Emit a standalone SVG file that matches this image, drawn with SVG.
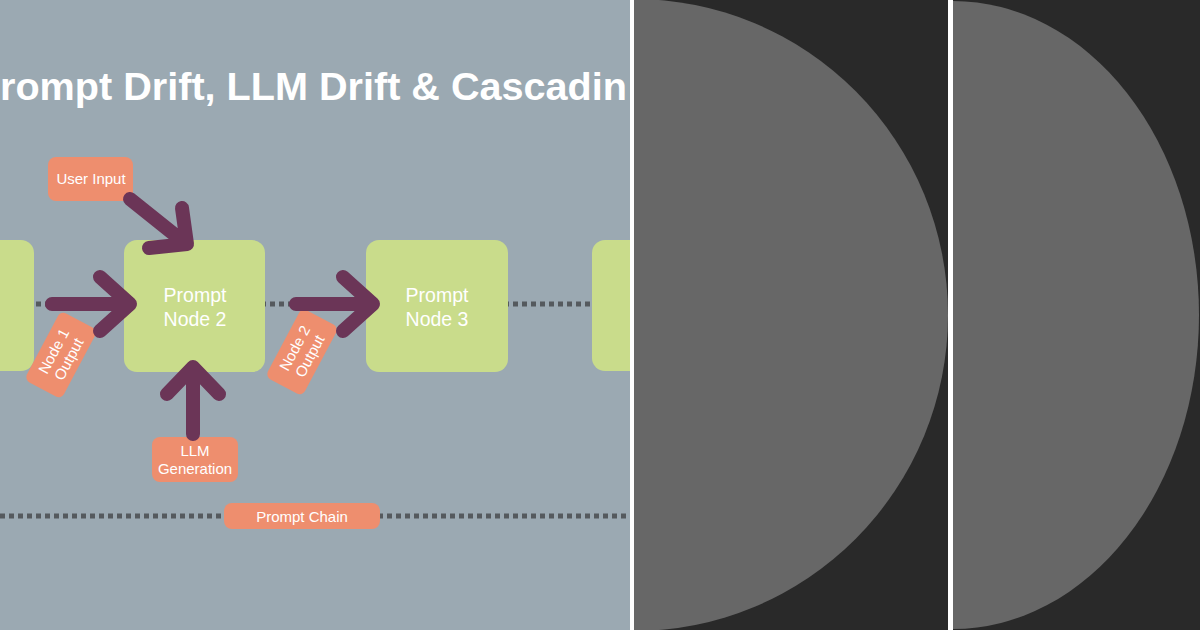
<svg xmlns="http://www.w3.org/2000/svg" width="1200" height="630" viewBox="0 0 1200 630">
<defs>
<style>
.node{fill:#c9dc8b}
.lbl{fill:#ee8e6e}
.ntxt{font-family:"Liberation Sans",Arial,sans-serif;font-size:19.5px;fill:#ffffff;text-anchor:middle}
.ltxt{font-family:"Liberation Sans",Arial,sans-serif;font-size:15px;fill:#ffffff;text-anchor:middle}
.arrow{fill:none;stroke:#6b3557;stroke-width:14;stroke-linecap:round;stroke-linejoin:round}
.dots{stroke:#555a5e;stroke-width:5;stroke-dasharray:5 4;fill:none}
</style>
<clipPath id="leftclip"><rect x="0" y="0" width="630" height="630"/></clipPath>
<clipPath id="p2clip"><rect x="634" y="0" width="314" height="630"/></clipPath>
<clipPath id="p3clip"><rect x="953" y="0" width="247" height="630"/></clipPath>
</defs>
<rect x="0" y="0" width="1200" height="630" fill="#ffffff"/>
<rect x="0" y="0" width="630" height="630" fill="#9ba9b2"/>
<rect x="634" y="0" width="314" height="630" fill="#292929"/>
<rect x="953" y="0" width="247" height="630" fill="#292929"/>
<g clip-path="url(#p2clip)"><ellipse cx="634" cy="315" rx="314" ry="316" fill="#676767"/></g>
<g clip-path="url(#p3clip)"><ellipse cx="953" cy="315" rx="246" ry="314" fill="#676767"/></g>

<g clip-path="url(#leftclip)">
<text x="0" y="100" font-family="'Liberation Sans',Arial,sans-serif" font-size="39" font-weight="bold" fill="#ffffff" textLength="627" lengthAdjust="spacingAndGlyphs">rompt Drift, LLM Drift &amp; Cascadin</text>

<g id="chain-lines">
<line class="dots" x1="0" y1="304" x2="630" y2="304"/>
<line class="dots" x1="0" y1="516" x2="630" y2="516"/>
</g>

<g id="node1"><rect class="node" x="-100" y="240" width="134" height="131" rx="13"/></g>
<g id="node2"><rect class="node" x="124" y="240" width="141" height="132" rx="13"/>
<text class="ntxt" x="195" y="302">Prompt</text><text class="ntxt" x="195" y="326">Node 2</text></g>
<g id="node3"><rect class="node" x="366" y="240" width="142" height="132" rx="13"/>
<text class="ntxt" x="437" y="302">Prompt</text><text class="ntxt" x="437" y="326">Node 3</text></g>
<g id="node4"><rect class="node" x="592" y="240" width="140" height="131" rx="13"/></g>

<g id="user-input"><rect class="lbl" x="48" y="157" width="85" height="44" rx="8"/>
<text class="ltxt" x="91" y="184">User Input</text></g>
<g id="llm-gen"><rect class="lbl" x="152" y="437" width="86" height="45" rx="8"/>
<text class="ltxt" x="195" y="456">LLM</text><text class="ltxt" x="195" y="474">Generation</text></g>
<g id="prompt-chain"><rect class="lbl" x="224" y="503" width="156" height="26" rx="8"/>
<text class="ltxt" x="302" y="521.5">Prompt Chain</text></g>
<g id="node1-output" transform="translate(61 355) rotate(-62)"><rect class="lbl" x="-39" y="-21" width="78" height="42" rx="6"/>
<text class="ltxt" x="0" y="-3">Node 1</text><text class="ltxt" x="0" y="14">Output</text></g>
<g id="node2-output" transform="translate(302 352) rotate(-62)"><rect class="lbl" x="-39" y="-21" width="78" height="42" rx="6"/>
<text class="ltxt" x="0" y="-3">Node 2</text><text class="ltxt" x="0" y="14">Output</text></g>

<g id="connectors">
<path class="arrow" d="M52 304 H128 M100 277 L130 304 L100 331"/>
<path class="arrow" d="M130 199 L185 243 M182 208 L187 244 L149 248"/>
<path class="arrow" d="M193 434 V369 M167 394 L193 367 L219 394"/>
<path class="arrow" d="M296 304 H371 M343 277 L373 304 L343 331"/>
</g>
</g>
</svg>
